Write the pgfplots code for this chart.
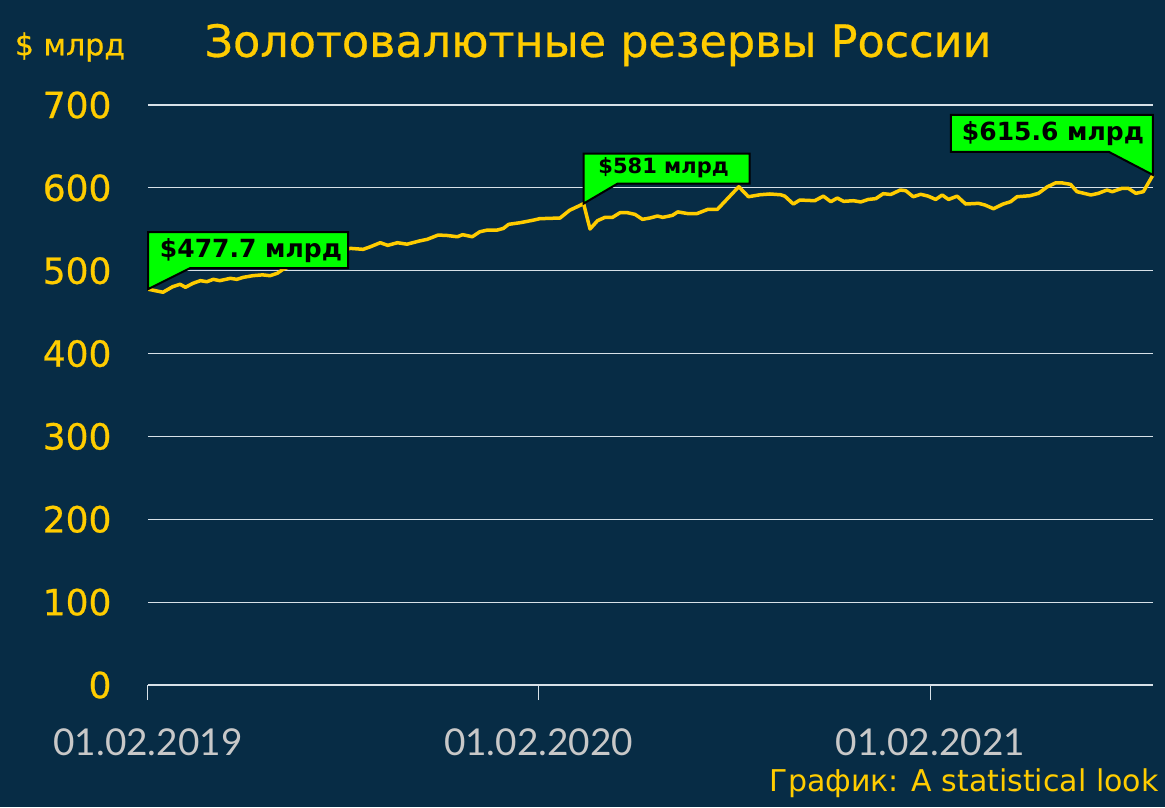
\documentclass[border=0pt]{standalone}
\usepackage{pgfplots}
\pgfplotsset{compat=1.18}
\usepackage{fontspec}
\setmainfont{DejaVu Sans}
\newfontfamily\latof{Lato}
\newfontfamily\djs[FakeBold=0.6]{DejaVu Sans}
\definecolor{bg}{RGB}{7,44,69}
\definecolor{gold}{RGB}{255,204,0}
\definecolor{tgray}{RGB}{200,200,200}
\definecolor{gridc}{RGB}{215,225,232}
\definecolor{callg}{RGB}{0,255,0}
\begin{document}
\begin{tikzpicture}[x=1pt,y=1pt]
\fill[bg] (0,0) rectangle (1165,807);
\useasboundingbox (0,0) rectangle (1165,807);
\begin{axis}[
 at={(148pt,122pt)}, anchor=south west,
 width=1005pt, height=580pt, scale only axis,
 xmin=0, xmax=939, ymin=0, ymax=700,
 axis line style={draw=none},
 ymajorgrids, grid style={draw=gridc, line width=1.2pt},
 ytick={0,100,...,700},
 ytick style={draw=none},
 xtick={0,365,731},
 xticklabels={01.02.2019,01.02.2020,01.02.2021},
 xtick pos=left, ytick pos=left, tick align=outside,
 major tick length=15pt,
 xtick style={draw=gridc, line width=1pt},
 yticklabel style={font=\djs\fontsize{36}{40}\selectfont, text=gold, xshift=-18pt},
 xticklabel style={font=\latof\fontsize{37}{40}\selectfont, text=tgray, yshift=-25pt},
 /pgf/number format/assume math mode=true,
 clip=false,
]
\addplot[gold, line width=3.5pt, line join=round] coordinates {
(0,477.7) (14,474) (18,477) (23,480.7) (30,483.6) (35,480) (42,484.8) (49,488) (55,486.7) (61,489.6) (67,488) (77,490.8) (83,489.6) (89,492) (98,494) (107,495) (114,494) (121,497) (126,501.6) (142,510) (161,517) (179,523) (189,527) (201,525.8) (208,529) (217,533.8) (224,530.6) (233,533.8) (242,532) (254,536) (261,537.9) (271,543) (279,542.6) (289,541) (294,543.5) (303,541) (310,547) (317,549) (326,549) (332,551) (337,556) (348,558) (360,561) (366,562.8) (385,563.6) (394,573) (404,579) (407,581) (413,550.3) (420,560.4) (427,564.4) (434,564.4) (441,570) (448,570) (455,568) (462,562) (469,563.6) (476,566) (481,564.4) (490,566.8) (495,571) (504,569) (513,569) (523,574) (532,574) (552,601.4) (561,589.3) (572,591.7) (581,592.6) (591,591.7) (595,590) (603,580.5) (609,585.3) (623,584.5) (631,590) (638,583.3) (644,587.7) (650,583.7) (659,584.5) (666,583) (673,586) (680,587) (687,593) (694,592) (703,597.4) (708,596.6) (715,589.3) (722,592.2) (729,590) (736,586) (742,591.4) (748,586) (756,590) (764,580.5) (776,581.3) (782,579.3) (790,574.8) (799,580.5) (806,583.3) (812,589.3) (824,590.5) (832,593.4) (840,601) (848,606) (854,606) (862,604.2) (868,595.4) (881,591.4) (888,593.4) (896,597.4) (901,595.4) (910,599.4) (916,599.4) (923,593.4) (930,595.4) (939,615.6)
};
\coordinate (c1) at (axis cs:0,477.7);
\coordinate (c2) at (axis cs:407,581);
\coordinate (c3) at (axis cs:939,615.6);
\end{axis}
\filldraw[fill=callg, draw=black, line width=2pt, line join=miter] (c1) -- ++(0pt,57pt) -- ++(200pt,0pt) -- ++(0pt,-36pt) -- ++(-158pt,0pt) -- cycle;
\node[font=\bfseries\fontsize{25}{27}\selectfont] at ([xshift=103pt,yshift=39pt]c1) {\$477.7 млрд};
\filldraw[fill=callg, draw=black, line width=2pt, line join=miter] (c2) -- ++(0pt,50pt) -- ++(166pt,0pt) -- ++(0pt,-30pt) -- ++(-132pt,0pt) -- cycle;
\node[font=\bfseries\fontsize{21}{23}\selectfont] at ([xshift=80pt,yshift=35.6pt]c2) {\$581 млрд};
\filldraw[fill=callg, draw=black, line width=2pt, line join=miter] (c3) -- ++(0pt,60pt) -- ++(-202pt,0pt) -- ++(0pt,-37pt) -- ++(158pt,0pt) -- cycle;
\node[font=\bfseries\fontsize{25}{27}\selectfont] at ([xshift=-100pt,yshift=41.4pt]c3) {\$615.6 млрд};
\node[text=gold, font=\djs\fontsize{44.5}{48}\selectfont] at (598,762) {Золотовалютные резервы России};
\node[text=gold, font=\djs\fontsize{30}{32}\selectfont] at (70,760) {\$ млрд};
\node[text=gold, anchor=east, font=\fontsize{30}{32}\selectfont] at (1162,24) {График: A statistical look};
\end{tikzpicture}
\end{document}
